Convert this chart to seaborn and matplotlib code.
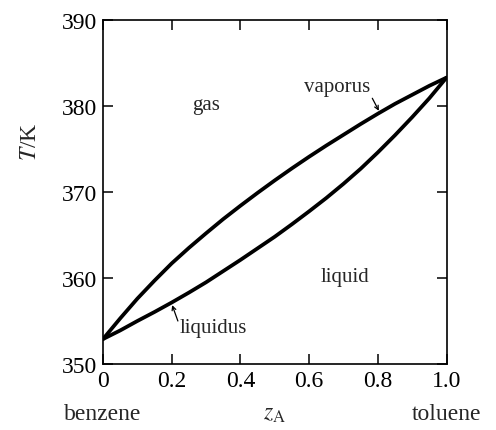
import matplotlib
matplotlib.use("Agg")
import matplotlib.pyplot as plt
import matplotlib.transforms as mtransforms
import seaborn as sns
import pandas as pd

# Data (composition z_A vs temperature in K)
z_values = [0.0, 0.05, 0.1, 0.15, 0.2, 0.25, 0.3, 0.35, 0.4, 0.45, 0.5,
            0.55, 0.6, 0.65, 0.7, 0.75, 0.8, 0.85, 0.9, 0.95, 1.0]
T_liquidus = [352.9, 353.9, 355.0, 356.05, 357.15, 358.3, 359.5, 360.8, 362.1, 363.45, 364.8,
              366.25, 367.75, 369.3, 370.95, 372.7, 374.6, 376.6, 378.7, 380.9, 383.3]
T_vaporus = [352.9, 355.3, 357.6, 359.7, 361.7, 363.5, 365.2, 366.85, 368.4, 369.9, 371.35,
             372.75, 374.1, 375.4, 376.65, 377.9, 379.1, 380.25, 381.3, 382.35, 383.3]
x_ticks = [0.0, 0.2, 0.4, 0.6, 0.8, 1.0]
x_tick_labels = ["0", "0.2", "0.4", "0.6", "0.8", "1.0"]
y_ticks = [350, 360, 370, 380, 390]

df = pd.DataFrame({
    "z": z_values * 2,
    "T": T_liquidus + T_vaporus,
    "curve": ["liquidus"] * len(z_values) + ["vaporus"] * len(z_values),
})

sns.set_style("ticks")
plt.rcParams["font.family"] = ["Liberation Serif", "DejaVu Serif"]
plt.rcParams["mathtext.fontset"] = "stix"

fig = plt.figure(figsize=(4.96, 4.31), dpi=100)
ax = fig.add_axes([103 / 496, (431 - 365) / 431, 343.5 / 496, 344 / 431])

sns.lineplot(data=df, x="z", y="T", units="curve", estimator=None,
             color="black", linewidth=2.7, sort=False, ax=ax, legend=False,
             solid_joinstyle="round", solid_capstyle="round")

ax.set_xlim(0, 1)
ax.set_ylim(350, 390)
ax.set_xticks(x_ticks)
ax.set_xticklabels(x_tick_labels)
ax.set_yticks(y_ticks)
ax.tick_params(direction="in", length=7, width=1.1, labelsize=17,
               top=True, right=True, color="black", labelcolor="black", pad=4)
for s in ax.spines.values():
    s.set_linewidth(1.2)
    s.set_color("black")
ax.set_xlabel("")
ax.set_ylabel("")

trans = mtransforms.blended_transform_factory(ax.transData, ax.transAxes)
ax.text(0.5, -0.145, r"$z_\mathrm{A}$", transform=trans, ha="center", va="center", fontsize=17)
ax.text(0.0, -0.145, "benzene", transform=trans, ha="center", va="center", fontsize=17)
ax.text(1.0, -0.145, "toluene", transform=trans, ha="center", va="center", fontsize=17)
ax.text(-0.21, 0.65, r"$T$/K", transform=ax.transAxes, ha="center", va="center",
        rotation=90, fontsize=17)

ax.text(0.30, 380.2, "gas", ha="center", va="center", fontsize=15)
ax.text(0.705, 360.2, "liquid", ha="center", va="center", fontsize=15)
ax.text(0.683, 382.3, "vaporus", ha="center", va="center", fontsize=15)
ax.text(0.32, 354.2, "liquidus", ha="center", va="center", fontsize=15)
arrow_kw = dict(arrowstyle="->", lw=0.9, color="black", shrinkA=0, shrinkB=1,
                mutation_scale=7)
ax.annotate("", xy=(0.805, 379.3), xytext=(0.784, 380.9), arrowprops=arrow_kw)
ax.annotate("", xy=(0.2, 357.0), xytext=(0.218, 355.0), arrowprops=arrow_kw)

fig.savefig("out.png", dpi=100)
